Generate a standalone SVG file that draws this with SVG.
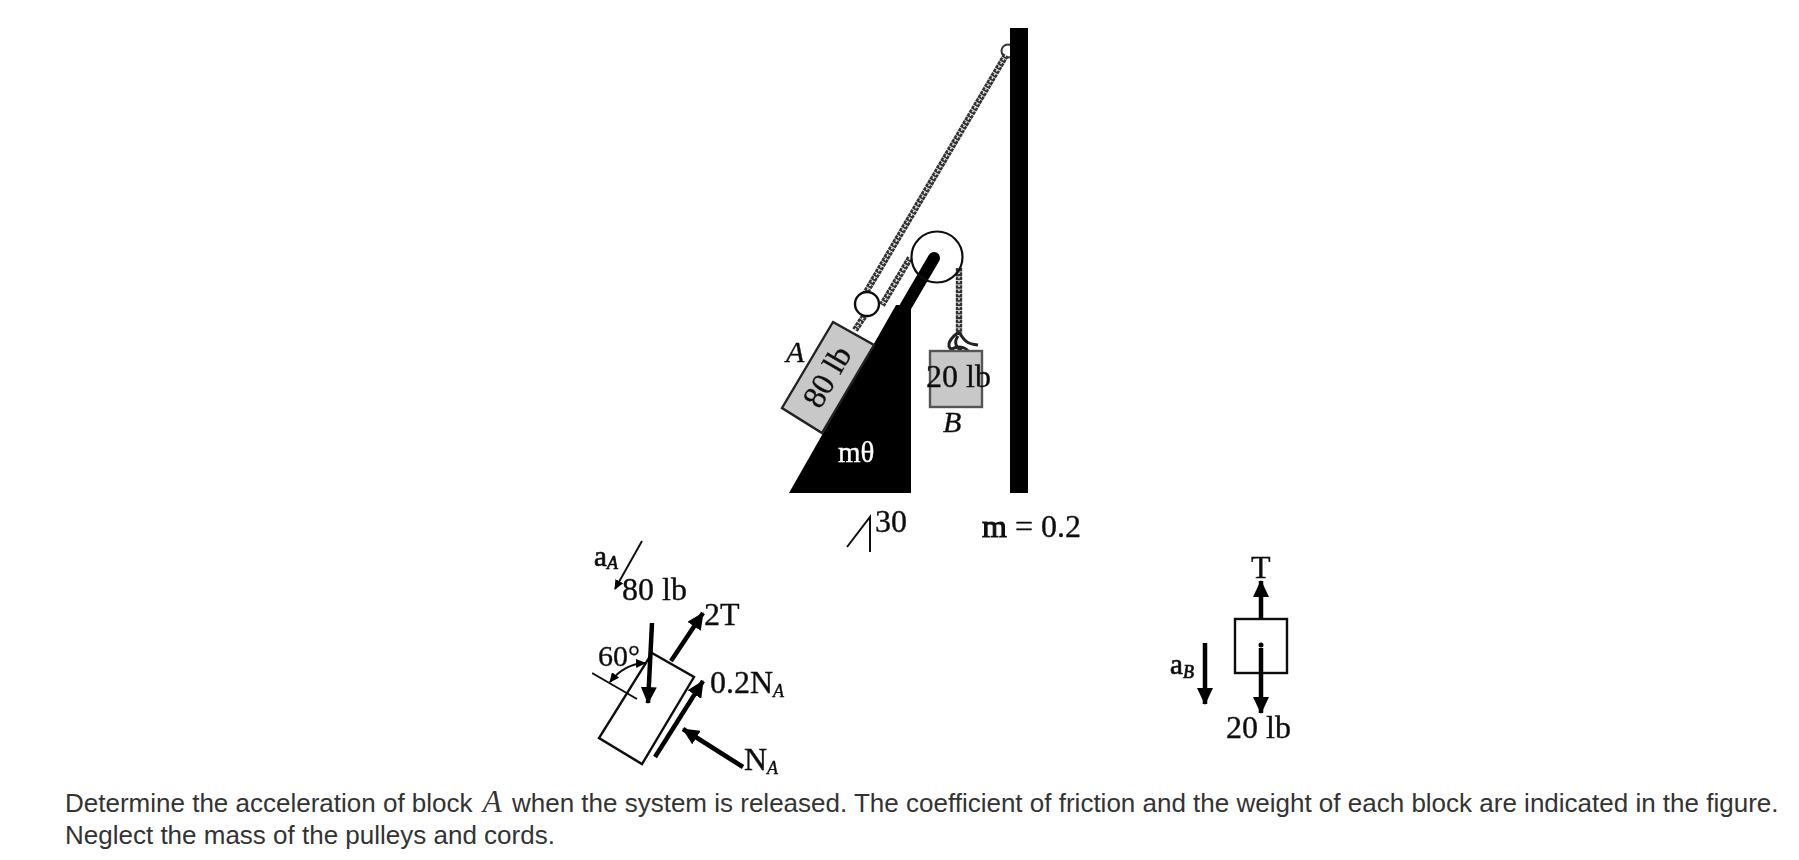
<svg xmlns="http://www.w3.org/2000/svg" width="1799" height="860" viewBox="0 0 1799 860">
<defs>
<marker id="ah" markerUnits="userSpaceOnUse" markerWidth="17" markerHeight="16" refX="16" refY="8" orient="auto"><path d="M0 0L17 8L0 16Z" fill="#000"/></marker>
<marker id="ahs" markerUnits="userSpaceOnUse" markerWidth="10" markerHeight="9" refX="9" refY="4.5" orient="auto-start-reverse"><path d="M0 0L10 4.5L0 9Z" fill="#000"/></marker>
<filter id="soft" x="0" y="0" width="1" height="1" filterUnits="objectBoundingBox"><feGaussianBlur stdDeviation="0.5"/></filter>
</defs>
<style>
text{font-family:"Liberation Serif","Times New Roman",serif;fill:#111;stroke:#111;stroke-width:.35}
.t{font-size:32px}
.s{font-size:18px;font-style:italic}
.i{font-style:italic}
.p{font-family:"Liberation Sans",Arial,sans-serif;font-size:26px;fill:#333;stroke:none}
.o{fill:none;stroke:#111;stroke-width:2.4}
.f{fill:none;stroke:#000;stroke-width:4.5}
.th{fill:none;stroke:#111;stroke-width:2}
.c1{fill:none;stroke:#333;stroke-width:6.4;stroke-dasharray:3.6 .7}
.c2{fill:none;stroke:#eee;stroke-width:1.5;stroke-dasharray:1.8 2.5}
</style>
<rect width="1799" height="860" fill="#fff"/>
<g filter="url(#soft)">
<g id="pulley-top"><circle cx="1008" cy="51" r="6.5" fill="#fff" stroke="#333" stroke-width="2"/></g>
<g id="wall"><rect x="1010" y="28" width="18" height="465" fill="#000"/></g>
<g id="wedge"><path d="M789 493H911V305H896Z" fill="#000"/><line x1="934" y1="258" x2="896" y2="323" stroke="#000" stroke-width="12" stroke-linecap="round"/><text x="838" y="462" style="fill:#fff;stroke:#fff;font-size:29px">mθ</text></g>
<g id="connectors">
<path class="c1" d="M1006 55L865 294"/><path class="c2" d="M1006 55L865 294"/>
<path class="c1" d="M910 258L882 305"/><path class="c2" d="M910 258L882 305"/>
<path class="c1" d="M959 268V334"/><path class="c2" d="M959 268V334"/>
<path class="c1" d="M855 330L865 315"/><path class="c2" d="M855 330L865 315"/>
<path d="M959 332C949 339 946 346 952 350M959 332C964 340 966 344 978 345M950 350C958 345 965 347 968 351M958 336C953 343 957 349 962 350" fill="none" stroke="#222" stroke-width="3"/>
</g>
<g id="pulley-large"><circle cx="937" cy="257" r="25.5" fill="none" stroke="#111" stroke-width="2.2"/></g>
<g id="pulley-small"><circle cx="867" cy="304" r="12" fill="#fff" stroke="#111" stroke-width="2.4"/></g>
<g id="block-a"><path d="M833 322L874 345L822 433L782 408Z" fill="#c8c8c8" stroke="#222" stroke-width="2.4"/><text class="t" transform="translate(820 410) rotate(-60)">80 lb</text><text x="786" y="362" class="i" style="font-size:30px">A</text></g>
<g id="block-b"><rect x="930" y="351" width="52" height="56" fill="#c8c8c8" stroke="#555" stroke-width="2.4"/><text x="926" y="387" class="t">20 lb</text><text x="943" y="432" class="i" style="font-size:30px">B</text></g>
<g id="angle"><path class="th" d="M847 547L870 517V552"/><text x="875" y="532" class="t">30</text></g>
<g id="mu"><text x="982" y="537" class="t"><tspan style="stroke-width:1">m</tspan> = 0.2</text></g>
<g id="fbd-a">
<path class="o" d="M652 653L694 677L642 764L599 738Z"/>
<path class="th" d="M592 673L637 699"/>
<path class="th" d="M645 663Q624 664 610 682" marker-start="url(#ahs)" marker-end="url(#ahs)"/>
<path class="th" d="M642 541L615 589" marker-end="url(#ahs)"/>
<path class="f" d="M652 623L648 703" marker-end="url(#ah)"/>
<path class="f" d="M671 661L703 613" marker-end="url(#ah)"/>
<path class="f" d="M655 757L703 681" marker-end="url(#ah)"/>
<path class="f" d="M743 767L683 729" marker-end="url(#ah)"/>
<text x="594" y="566" style="font-size:29px;stroke-width:.7">a<tspan class="s" dy="3">A</tspan></text>
<text x="622" y="600" class="t">80 lb</text>
<text x="704" y="625" class="t">2T</text>
<text x="598" y="666" style="font-size:30px">60°</text>
<text x="710" y="693" class="t">0.2N<tspan class="s" dy="4">A</tspan></text>
<text x="744" y="770" class="t">N<tspan class="s" dy="4">A</tspan></text>
</g>
<g id="fbd-b">
<rect class="o" x="1235" y="619" width="52" height="54"/>
<path class="f" d="M1261 618V581" marker-end="url(#ah)"/>
<circle cx="1261" cy="645" r="2.5" fill="#000"/>
<path class="f" d="M1261 648V713" marker-end="url(#ah)"/>
<path class="f" d="M1205 643V704" marker-end="url(#ah)"/>
<text x="1251" y="578" class="t">T</text>
<text x="1170" y="674" style="font-size:29px;stroke-width:.7">a<tspan class="s" dy="4">B</tspan></text>
<text x="1226" y="738" class="t">20 lb</text>
</g>
</g>
<g id="caption">
<text x="65" y="812" class="p">Determine the acceleration of block <tspan dx="3" style="font-family:'Liberation Serif',serif;font-style:italic;font-size:31px">A</tspan><tspan dx="3"> when the system is released. The coefficient of friction and the weight of each block are indicated in the figure.</tspan></text>
<text x="65" y="844" class="p">Neglect the mass of the pulleys and cords.</text>
</g>
</svg>
